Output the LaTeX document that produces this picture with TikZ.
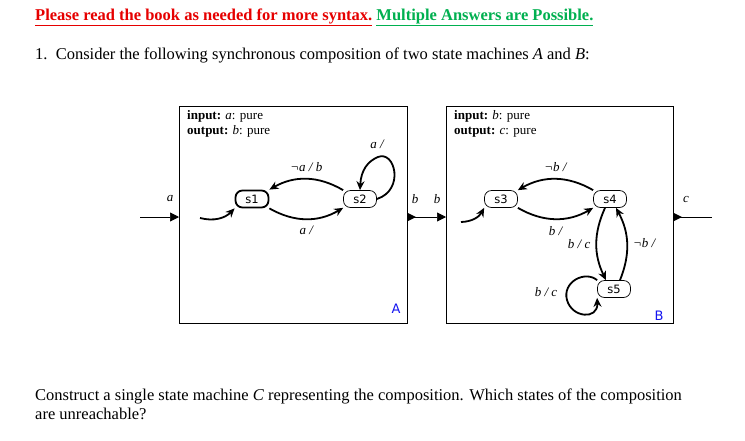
\documentclass[tikz,border=0pt]{standalone}
\usepackage{fontspec}
\setmainfont{Liberation Serif}
\setsansfont{DejaVu Sans}
\usetikzlibrary{arrows.meta}
\definecolor{hdrred}{RGB}{230,0,0}
\definecolor{hdrgreen}{RGB}{0,176,80}
\definecolor{lblue}{RGB}{20,20,240}
\tikzset{
  st/.style={draw,rounded corners=7pt,minimum width=33pt,minimum height=17pt,inner sep=1pt,font=\sffamily\fontsize{11.5}{11.5}\selectfont,line width=0.7pt},
  init/.style={st,line width=1.8pt},
  tr/.style={line width=1.8pt,-{Stealth[length=9pt,width=8pt]}},
  lab/.style={font=\fontsize{13}{13}\selectfont\itshape},
  mbox/.style={draw,line width=0.9pt,fill=white},
  port/.style={line width=0.7pt,-{Triangle[length=9pt,width=9pt]}},
  txt/.style={font=\fontsize{16.5}{18}\selectfont,anchor=west,inner sep=0pt}
}
\begin{document}
\begin{tikzpicture}[x=1pt,y=-1pt]
\useasboundingbox[fill=white] (0,0) rectangle (745,440);
\node[txt] (h) at (35,17) {\textcolor{hdrred}{\bfseries\underline{Please read the book as needed for more syntax.}} \textcolor{hdrgreen}{\bfseries\underline{Multiple Answers are Possible.}}};
\node[txt] (q) at (35,55) {1.\ \ Consider the following synchronous composition of two state machines \textit{A} and \textit{B}:};
\node[txt] (c1) at (35,396) {Construct a single state machine \textit{C} representing the composition. Which states of the composition};
\node[txt] (c2) at (35,414) {are unreachable?};
% boxes
\node[mbox,minimum width=228pt,minimum height=217pt,anchor=north west,inner sep=0pt] (A) at (179,106) {};
\node[mbox,minimum width=227pt,minimum height=217pt,anchor=north west,inner sep=0pt] (B) at (446,106) {};
\node[anchor=north west,align=left,inner sep=0pt,font=\fontsize{13}{15}\selectfont] (ia) at (187,110) {\textbf{input:} \textit{a}: pure\\\textbf{output:} \textit{b}: pure};
\node[anchor=north west,align=left,inner sep=0pt,font=\fontsize{13}{15}\selectfont] (ib) at (454,110) {\textbf{input:} \textit{b}: pure\\\textbf{output:} \textit{c}: pure};
\node[text=lblue,font=\sffamily\fontsize{13}{13}\selectfont] (An) at (396,309) {A};
\node[text=lblue,font=\sffamily\fontsize{13}{13}\selectfont] (Bn) at (659,316) {B};
% ports
\coordinate (ain) at (140,217);
\coordinate (aout) at (179,217);
\coordinate (bout) at (407,217);
\coordinate (bin) at (446,217);
\coordinate (cout) at (673,217);
\coordinate (cend) at (712,217);
\draw[port] (ain) -- (aout);
\draw[port] (bout) -- (bin);
\draw[line width=0.7pt] (cout) -- (cend);
\fill (cout) -- ++(0,-4.5) -- ++(9,4.5) -- ++(-9,4.5) -- cycle;
\fill (bout) -- ++(0,-4.5) -- ++(9,4.5) -- ++(-9,4.5) -- cycle;
\node[lab] (la) at (170,199) {a};
\node[lab] (lb1) at (415,199) {b};
\node[lab] (lb2) at (437,199) {b};
\node[lab] (lc) at (686,199) {c};
% states
\node[init] (s1) at (252,199) {s1};
\node[st] (s2) at (360,199) {s2};
\node[st] (s3) at (501,199) {s3};
\node[st] (s4) at (610,199) {s4};
\node[st] (s5) at (614,289) {s5};
\coordinate (i1) at (200,218);
\coordinate (i3) at (461,222);
\draw[tr] (i1) to[bend right=30] (s1.south west);
\draw[tr] (i3) to[bend right=30] (s3.south west);
\draw[tr] (s1.south east) to[bend right=30] node[lab,below=3pt] {a /} (s2.south west);
\draw[tr] (s2.north west) to[bend right=30] node[lab,above=3pt] {¬a / b} (s1.north east);
\draw[tr] (s2.east) .. controls (405,190) and (395,150) .. (378,157) .. controls (368,161) and (361,170) .. (s2.north);
\node[lab] (l2) at (377,144) {a /};
\draw[tr] (s3.south east) to[bend right=30] node[lab,below=3pt] {b /} (s4.south west);
\draw[tr] (s4.north west) to[bend right=30] node[lab,above=3pt] {¬b /} (s3.north east);
\draw[tr] ([xshift=-5pt]s4.south) to[bend right=25] node[lab,left=2pt] {b / c} ([xshift=-8pt]s5.north);
\draw[tr] ([xshift=6pt]s5.north) to[bend right=25] node[lab,right=2pt] {¬b /} ([xshift=6pt]s4.south);
\draw[tr] (s5.north west) .. controls (585,270) and (562,282) .. (567,300) .. controls (572,318) and (598,320) .. (s5.south west);
\node[lab] (l5) at (546,292) {b / c};
\end{tikzpicture}
\end{document}
